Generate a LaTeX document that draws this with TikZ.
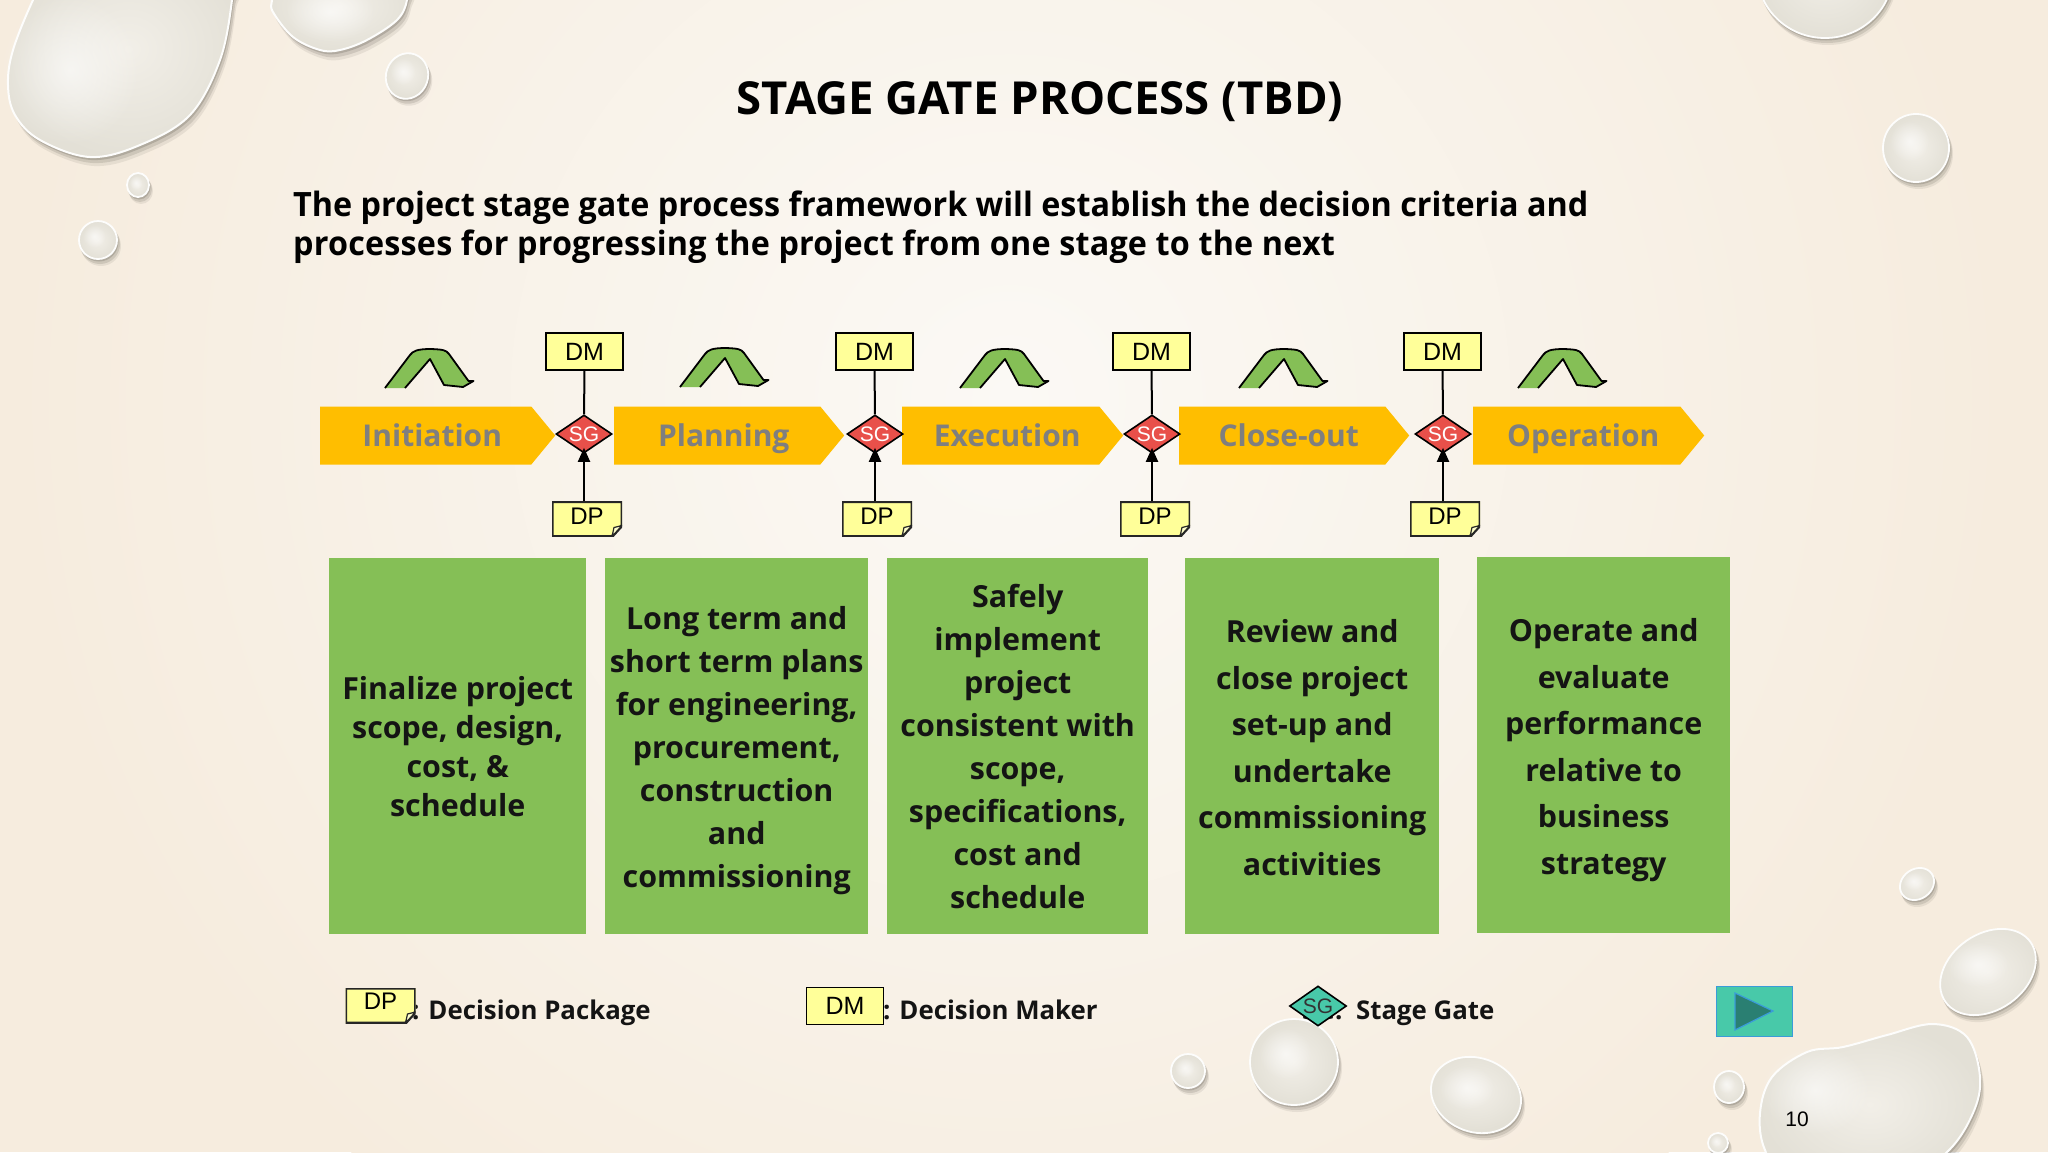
\documentclass[tikz,border=0pt]{standalone}
\usepackage{fontspec}
\setmainfont{Open Sans}
\newfontfamily\labelfont{Liberation Sans}
\newfontfamily\introfont[FakeStretch=0.965]{Open Sans}
\usetikzlibrary{arrows.meta,fadings,shapes.geometric,shapes.symbols}

\definecolor{pagebase}{HTML}{F6ECDE}
\definecolor{pagelight}{HTML}{FBF9F5}
\definecolor{stagefill}{HTML}{FFBE00}
\definecolor{stagetext}{HTML}{7F7F7F}
\definecolor{taskfill}{HTML}{85BF56}
\definecolor{gatefill}{HTML}{E8504A}
\definecolor{notefill}{HTML}{FFFF99}
\definecolor{tealfill}{HTML}{48C9A9}
\definecolor{playfill}{HTML}{2A7F72}
\definecolor{playline}{HTML}{3A9BD9}
\definecolor{dropshade}{HTML}{6F6A60}
\definecolor{dropinner}{HTML}{F2EFE8}
\definecolor{dropouter}{HTML}{E3E0D6}

\tikzfading[name=glowfade,inner color=transparent!0,outer color=transparent!100]

\newcommand{\dropglow}[4]{% x, y, x radius, y radius
  \fill[white,opacity=0.6,path fading=glowfade] (#1,#2) ellipse [x radius=#3pt,y radius=#4pt];
}
\newcommand{\waterdrop}[5]{% x, y, x radius, y radius, angle
  \fill[dropshade,opacity=0.12] (#1+3,#2+6) ellipse [x radius=#3pt+1pt,y radius=#4pt+1pt,rotate=#5];
  \fill[dropshade,opacity=0.2] (#1+2,#2+4) ellipse [x radius=#3pt+1pt,y radius=#4pt+1pt,rotate=#5];
  \fill[dropshade,opacity=0.3] (#1+1,#2+2) ellipse [x radius=#3pt+0.5pt,y radius=#4pt+0.5pt,rotate=#5];
  \shade[inner color=dropinner,outer color=dropouter,draw=white!92!dropouter,line width=1.8pt]
    (#1,#2) ellipse [x radius=#3pt,y radius=#4pt,rotate=#5];
  \dropglow{#1-0.2*#3}{#2-0.2*#4}{0.6*#3}{0.6*#4}
}
\newcommand{\waterblob}[1]{% smooth outline through the given points
  \fill[dropshade,opacity=0.12,xshift=4pt,yshift=-9pt] plot[smooth cycle,tension=0.6] coordinates {#1};
  \fill[dropshade,opacity=0.2,xshift=3pt,yshift=-6pt] plot[smooth cycle,tension=0.6] coordinates {#1};
  \fill[dropshade,opacity=0.3,xshift=1.5pt,yshift=-3pt] plot[smooth cycle,tension=0.6] coordinates {#1};
  \shade[inner color=dropinner,outer color=dropouter,draw=white!92!dropouter,line width=2pt]
    plot[smooth cycle,tension=0.6] coordinates {#1};
}

\tikzset{
  stage/.style={shape=signal,signal from=nowhere,signal to=east,signal pointer angle=101,
    fill=stagefill,text=stagetext,minimum height=58pt,inner sep=0pt,anchor=west,
    text height=28pt,text depth=7pt,execute at begin node=\hspace{13pt},
    font=\fontsize{30}{36}\selectfont\bfseries},
  gate/.style={shape=diamond,draw=black,line width=1.6pt,fill=gatefill,text=white,
    minimum width=56pt,minimum height=38pt,inner sep=0pt,aspect=1.47,
    font=\labelfont\fontsize{21}{24}\selectfont},
  maker/.style={rectangle,draw=black,line width=1.5pt,fill=notefill,
    minimum width=77pt,minimum height=37pt,inner sep=0pt,font=\labelfont\fontsize{25}{28}\selectfont},
  package/.style={rectangle,minimum width=70pt,minimum height=35pt,inner sep=0pt,text depth=6pt,
    font=\labelfont\fontsize{24}{28}\selectfont,
    path picture={
      \path (path picture bounding box.south west) coordinate (ps)
            (path picture bounding box.north east) coordinate (pn);
      \filldraw[fill=notefill,draw=black!85,line width=3pt]
        (ps) -- (ps |- pn) -- (pn) -- ([yshift=11pt]pn |- ps) -- ([xshift=-10pt]pn |- ps) -- cycle;
      \filldraw[fill=notefill!50!white,draw=black!85,line width=1.2pt]
        ([xshift=-10pt]pn |- ps) -- ([xshift=-8pt,yshift=9pt]pn |- ps) -- ([yshift=11pt]pn |- ps) -- cycle;
    }},
  task/.style 2 args={rectangle,fill=taskfill,text=black!92,minimum height=376pt,inner sep=0pt,anchor=north west,
    text width=#2,align=flush center,
    execute at begin node={\rule[-.3\baselineskip]{0pt}{\dimexpr\baselineskip+7pt\relax}},
    execute at end node=\strut,font=\fontsize{30.4}{#1}\selectfont\bfseries},
  legend/.style={anchor=base west,inner sep=0pt,text=black!92,font=\fontsize{25.8}{32}\selectfont\bfseries},
  gateline/.style={draw=black,line width=2pt},
  gatearrow/.style={draw=black,line width=2pt,-{Triangle[length=14pt,width=12pt]}},
  bentarrow/.pic={
    \filldraw[fill=taskfill,draw=black,line width=1.8pt,line join=round]
      (20,0) -- (45,-29) -- (59,-3) -- (78,-1) -- (88.5,-7) -- (83.5,-7) -- (64,-34)
      .. controls (61,-38) and (58,-38.5) .. (46,-39)
      .. controls (32,-39) and (28,-37) .. (25,-33) -- (0,0);
  }
}

\begin{document}
\begin{tikzpicture}[x=1pt,y=-1pt]
    \useasboundingbox (0,0) rectangle (2048,1152);
    \begin{scope}
        \clip (0,0) rectangle (2048,1152);
        \fill[pagebase] (0,0) rectangle (2048,1152);
        \shade[inner color=pagelight,outer color=pagebase] (1010,400) circle (1000pt);
        % top left
        \waterblob{(33,0) (13,50) (8,85) (15,115) (40,140) (90,157) (140,145) (190,115) (220,60) (232,0) (232,-30) (130,-60) (50,-30)}
        \dropglow{70}{70}{70}{75}
        \waterblob{(272,0) (273,12) (293,37) (320,50) (340,50) (367,40) (397,20) (407,0) (405,-20) (340,-40) (275,-20)}
        \dropglow{330}{12}{45}{30}
        \waterdrop{407}{76}{21}{23}{-20}
        \waterdrop{138}{185}{11}{12}{0}
        \waterdrop{98}{240}{19}{19}{0}
        % top right
        \waterdrop{1825}{-28}{68}{66}{0}
        \waterdrop{1916}{148}{33}{34}{0}
        % bottom right
        \waterdrop{1917}{884}{18}{15}{35}
        \waterdrop{1988}{972}{52}{38}{35}
        \waterblob{(1760,1113) (1772,1077) (1807,1052) (1843,1047) (1887,1035) (1933,1024) (1967,1037) (1980,1077) (1973,1113) (1947,1152) (1900,1180) (1790,1180) (1765,1150)}
        \dropglow{1815}{1090}{55}{45}
        \waterdrop{1729}{1087}{15}{16}{0}
        \waterdrop{1718}{1143}{10}{10}{0}
        % bottom middle
        \waterdrop{1188}{1071}{17}{17}{0}
        \waterdrop{1294}{1062}{44}{43}{0}
        \waterdrop{1476}{1095}{46}{37}{-20}
    \end{scope}

    \node (title) at (1040,102) {\fontsize{45.5}{52}\selectfont\bfseries STAGE GATE PROCESS (TBD)};
    \node[anchor=north west,inner sep=0pt,align=left,font=\introfont\fontsize{33.5}{39}\selectfont\bfseries] (intro) at (293,191)
        {The project stage gate process framework will establish the decision criteria and\\
         {\addfontfeature{LetterSpace=0.6}processes for progressing the project from one stage to the next}};

    \pic at (385,388) {bentarrow};
    \pic at (680,387) {bentarrow};
    \pic at (960,388) {bentarrow};
    \pic at (1239,388) {bentarrow};
    \pic at (1518,388) {bentarrow};

    \node[stage,minimum width=235pt] (initiation) at (320,435.5) {Initiation};
    \node[stage,minimum width=230pt] (planning) at (614,435.5) {Planning};
    \node[stage,minimum width=221pt] (execution) at (902,435.5) {Execution};
    \node[stage,minimum width=230pt] (closeout) at (1179,435.5) {Close-out};
    \node[stage,minimum width=231pt] (operation) at (1473,435.5) {Operation};

    \node[gate] (sg1) at (584,434) {SG};
    \node[gate] (sg2) at (875,434) {SG};
    \node[gate] (sg3) at (1152,434) {SG};
    \node[gate] (sg4) at (1443,434) {SG};

    \node[maker] (dm1) at (584.5,351.5) {DM};
    \node[maker] (dm2) at (874.5,351.5) {DM};
    \node[maker] (dm3) at (1151.5,351.5) {DM};
    \node[maker] (dm4) at (1442.5,351.5) {DM};

    \node[package] (dp1) at (587,519) {DP};
    \node[package] (dp2) at (877,519) {DP};
    \node[package] (dp3) at (1155,519) {DP};
    \node[package] (dp4) at (1445,519) {DP};

    \draw[gateline] (dm1) -- (sg1);
    \draw[gateline] (dm2) -- (sg2);
    \draw[gateline] (dm3) -- (sg3);
    \draw[gateline] (dm4) -- (sg4);
    \draw[gatearrow] (sg1.south |- dp1.north) -- ([yshift=6pt]sg1.south);
    \draw[gatearrow] (sg2.south |- dp2.north) -- ([yshift=6pt]sg2.south);
    \draw[gatearrow] (sg3.south |- dp3.north) -- ([yshift=6pt]sg3.south);
    \draw[gatearrow] (sg4.south |- dp4.north) -- ([yshift=6pt]sg4.south);

    \node[task={39}{257pt}] (task1) at (329,558)
        {Finalize project\\scope, design,\\cost, \&\\schedule};
    \node[task={43}{263pt}] (task2) at (605,558)
        {Long term and\\short term plans\\for engineering,\\procurement,\\construction\\and\\commissioning};
    \node[task={43}{261pt}] (task3) at (887,558)
        {Safely\\implement\\project\\consistent with\\scope,\\specifications,\\cost and\\schedule};
    \node[task={46.5}{254pt}] (task4) at (1185,558)
        {Review and\\close project\\set-up and\\undertake\\commissioning\\activities};
    \node[task={46.5}{253pt}] (task5) at (1477,557)
        {Operate and\\evaluate\\performance\\relative to\\business\\strategy};

    \node[legend] (dptext) at (412,1019) {: Decision Package};
    \node[package,text depth=9pt] (dpkey) at (380.5,1005.5) {DP};
    \node[legend] (dmtext) at (883,1019) {: Decision Maker};
    \node[maker] (dmkey) at (845,1006) {DM};
    \node[legend] (sgtext) at (1302,1019) {SG:\hspace{7pt} Stage Gate};
    \node[gate,fill=tealfill,text=black!80,minimum width=57pt,minimum height=40pt] (sgkey) at (1318,1006) {SG};

    \node[rectangle,draw=playline,line width=1.5pt,fill=tealfill,minimum width=76pt,minimum height=50pt,inner sep=0pt] (playbutton) at (1754.5,1011.5) {};
    \coordinate (playtip) at (1773,1011);
    \filldraw[fill=playfill,draw=playline,line width=1.2pt] (1735,993) -- (playtip) -- (1735,1030) -- cycle;

    \node[font=\labelfont\fontsize{21}{24}\selectfont] (pagenum) at (1797,1119) {10};
\end{tikzpicture}
\end{document}
